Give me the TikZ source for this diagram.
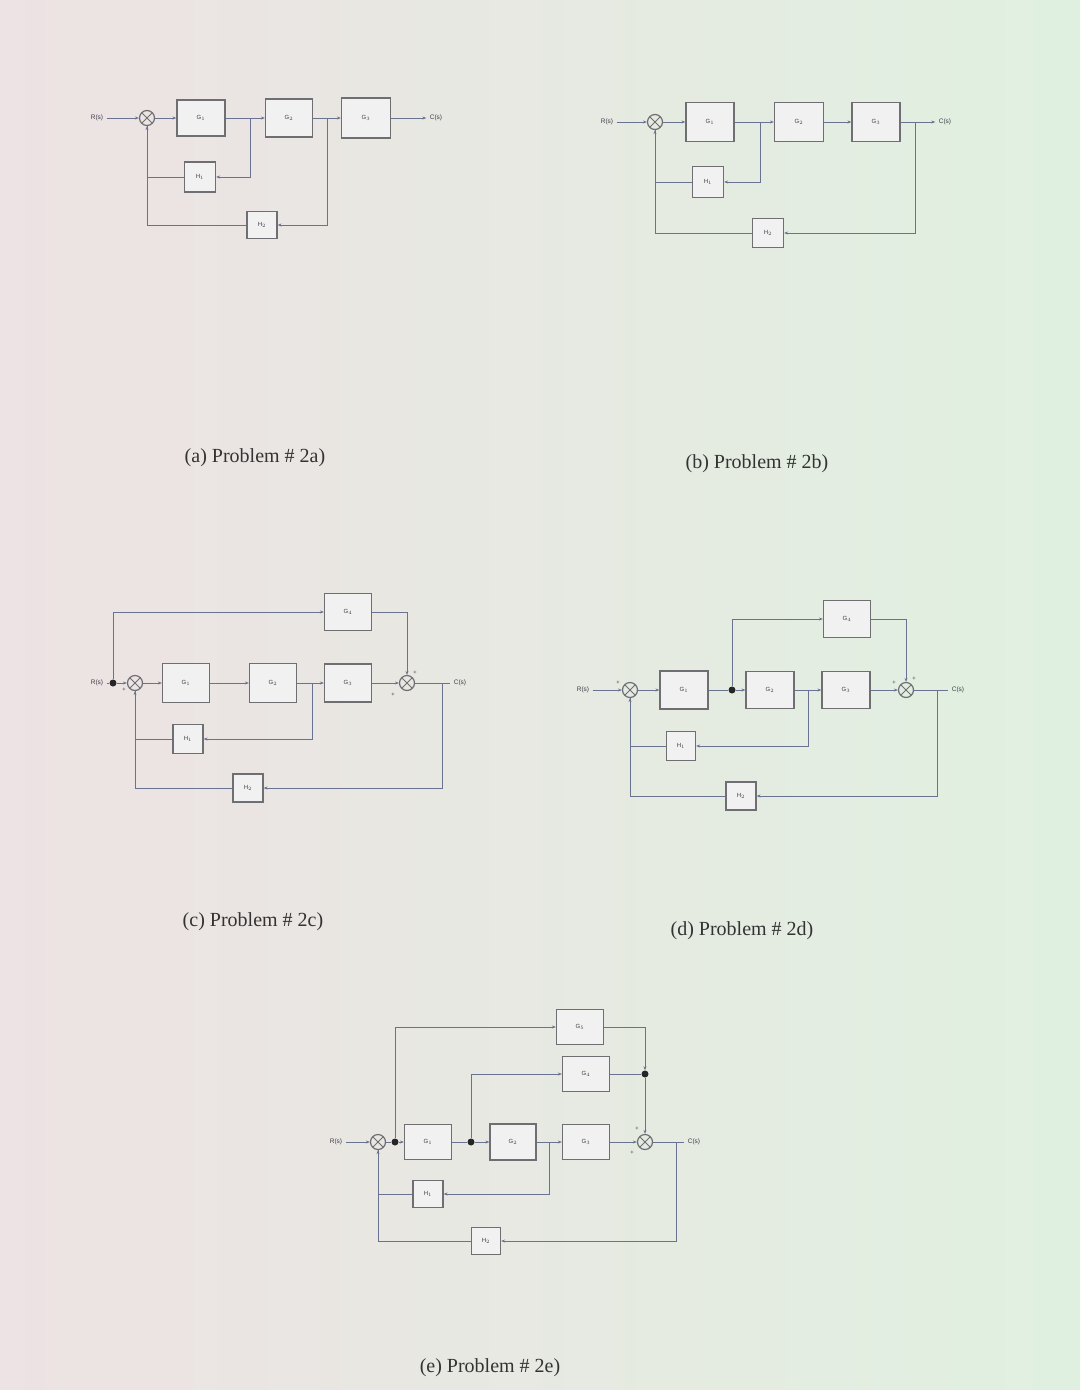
\documentclass[tikz,border=0pt]{standalone}
\usepackage{fontspec}
\setmainfont{Liberation Serif}
\newfontfamily\lblfont{Liberation Sans}
\usetikzlibrary{arrows.meta,shadings}
\definecolor{bg}{RGB}{234,232,234}
\definecolor{ln}{RGB}{105,115,145}
\definecolor{bx}{RGB}{110,110,115}
\definecolor{tx}{RGB}{60,60,70}
\begin{document}
\begin{tikzpicture}[x=1pt,y=-1pt,
  blk/.style={draw=bx,line width=1.2pt,fill=bg!60!white,font=\lblfont\fontsize{6}{6}\selectfont,text=tx},
  sm/.style={draw=bx,line width=1.2pt,circle,minimum size=15pt,inner sep=0pt,
    path picture={\draw[bx,line width=1pt] (path picture bounding box.north west)--(path picture bounding box.south east) (path picture bounding box.north east)--(path picture bounding box.south west);}},
  w/.style={draw=ln,line width=0.9pt},
  a/.style={w,-{Stealth[length=4pt,width=3pt]}},
  dt/.style={circle,fill=black!85,inner sep=0pt,minimum size=7pt},
  sig/.style={font=\lblfont\fontsize{6.5}{7}\selectfont,text=tx},
  captxt/.style={font=\fontsize{20}{22}\selectfont,text=black!80}]
\shade[left color=bg!85!pink,right color=bg!90!green!70!white] (0,0) rectangle (1080,1390);
\useasboundingbox (0,0) rectangle (1080,1390);
%% (a)
\node[sig] (aR) at (97,118) {R(s)};
\node[sm] (aS) at (147,118) {};
\node[blk,minimum width=48pt,minimum height=36pt] (aG1) at (201,118) {G$_1$};
\node[blk,minimum width=47pt,minimum height=38pt] (aG2) at (289,118) {G$_2$};
\node[blk,minimum width=49pt,minimum height=40pt] (aG3) at (366,118) {G$_3$};
\node[sig] (aC) at (436,118) {C(s)};
\node[blk,minimum width=31pt,minimum height=30pt] (aH1) at (200,177) {H$_1$};
\node[blk,minimum width=30pt,minimum height=27pt] (aH2) at (262,225) {H$_2$};
\coordinate (ab1) at (250,118); \coordinate (ab2) at (327,118);
\draw[a] (aR) -- (aS); \draw[a] (aS) -- (aG1); \draw[a] (aG1) -- (aG2); \draw[a] (aG2) -- (aG3);
\draw[a] (aG3) -- (aC);
\draw[a] (ab1) |- (aH1); \draw[a] (aH1) -| (aS);
\draw[a] (ab2) |- (aH2); \draw[w] (aH2) -| (aS);
%% (b)
\node[sig] (bR) at (607,122) {R(s)};
\node[sm] (bS) at (655,122) {};
\node[blk,minimum width=48pt,minimum height=39pt] (bG1) at (710,122) {G$_1$};
\node[blk,minimum width=49pt,minimum height=39pt] (bG2) at (799,122) {G$_2$};
\node[blk,minimum width=48pt,minimum height=39pt] (bG3) at (876,122) {G$_3$};
\node[sig] (bC) at (945,122) {C(s)};
\node[blk,minimum width=31pt,minimum height=31pt] (bH1) at (708,182) {H$_1$};
\node[blk,minimum width=31pt,minimum height=29pt] (bH2) at (768,233) {H$_2$};
\coordinate (bb1) at (760,122); \coordinate (bb2) at (915,122);
\draw[a] (bR) -- (bS); \draw[a] (bS) -- (bG1); \draw[a] (bG1) -- (bG2); \draw[a] (bG2) -- (bG3);
\draw[a] (bG3) -- (bC);
\draw[a] (bb1) |- (bH1); \draw[a] (bH1) -| (bS);
\draw[a] (bb2) |- (bH2); \draw[w] (bH2) -| (bS);
\node[captxt] (capa) at (255,458) {(a) Problem \# 2a)};
\node[captxt] (capb) at (757,464) {(b) Problem \# 2b)};
%% (c)
\node[sig] (cR) at (97,683) {R(s)};
\node[dt] (cd) at (113,683) {};
\node[sm] (cS1) at (135,683) {};
\node[blk,minimum width=47pt,minimum height=39pt] (cG1) at (186,683) {G$_1$};
\node[blk,minimum width=47pt,minimum height=39pt] (cG2) at (273,683) {G$_2$};
\node[blk,minimum width=47pt,minimum height=38pt] (cG3) at (348,683) {G$_3$};
\node[blk,minimum width=47pt,minimum height=37pt] (cG4) at (348,612) {G$_4$};
\node[sm] (cS2) at (407,683) {};
\node[sig] (cC) at (460,683) {C(s)};
\node[blk,minimum width=30pt,minimum height=29pt] (cH1) at (188,739) {H$_1$};
\node[blk,minimum width=30pt,minimum height=28pt] (cH2) at (248,788) {H$_2$};
\coordinate (cb1) at (312,683); \coordinate (cb2) at (442,683);
\draw[w] (cR) -- (cd); \draw[a] (cd) -- (cS1); \draw[a] (cS1) -- (cG1); \draw[a] (cG1) -- (cG2);
\draw[a] (cG2) -- (cG3); \draw[a] (cG3) -- (cS2); \draw[w] (cS2) -- (cC);
\draw[a] (cd) |- (cG4); \draw[a] (cG4) -| (cS2);
\draw[a] (cb1) |- (cH1); \draw[a] (cH1) -| (cS1);
\draw[a] (cb2) |- (cH2); \draw[w] (cH2) -| (cS1);
\node[font=\fontsize{6}{6}\selectfont] (cp1) at (124,690) {+};
\node[font=\fontsize{6}{6}\selectfont] (cp2) at (393,695) {+};
\node[font=\fontsize{6}{6}\selectfont] (cp3) at (415,673) {+};
\node[captxt] (capc) at (253,922) {(c) Problem \# 2c)};
%% (d)
\node[sig] (dR) at (583,690) {R(s)};
\node[sm] (dS1) at (630,690) {};
\node[blk,minimum width=48pt,minimum height=38pt] (dG1) at (684,690) {G$_1$};
\node[dt] (dd) at (732,690) {};
\node[blk,minimum width=48pt,minimum height=37pt] (dG2) at (770,690) {G$_2$};
\node[blk,minimum width=48pt,minimum height=37pt] (dG3) at (846,690) {G$_3$};
\node[blk,minimum width=47pt,minimum height=37pt] (dG4) at (847,619) {G$_4$};
\node[sm] (dS2) at (906,690) {};
\node[sig] (dC) at (958,690) {C(s)};
\node[blk,minimum width=29pt,minimum height=29pt] (dH1) at (681,746) {H$_1$};
\node[blk,minimum width=30pt,minimum height=28pt] (dH2) at (741,796) {H$_2$};
\coordinate (db1) at (808,690); \coordinate (db2) at (937,690);
\draw[a] (dR) -- (dS1); \draw[a] (dS1) -- (dG1); \draw[w] (dG1) -- (dd); \draw[a] (dd) -- (dG2);
\draw[a] (dG2) -- (dG3); \draw[a] (dG3) -- (dS2); \draw[w] (dS2) -- (dC);
\draw[a] (dd) |- (dG4); \draw[a] (dG4) -| (dS2);
\draw[a] (db1) |- (dH1); \draw[a] (dH1) -| (dS1);
\draw[a] (db2) |- (dH2); \draw[w] (dH2) -| (dS1);
\node[font=\fontsize{6}{6}\selectfont] (dp1) at (618,683) {+};
\node[font=\fontsize{6}{6}\selectfont] (dp2) at (894,683) {+};
\node[font=\fontsize{6}{6}\selectfont] (dp3) at (914,679) {+};
\node[captxt] (capd) at (742,931) {(d) Problem \# 2d)};
%% (e)
\node[sig] (eR) at (336,1142) {R(s)};
\node[sm] (eS1) at (378,1142) {};
\node[dt] (ed1) at (395,1142) {};
\node[blk,minimum width=47pt,minimum height=35pt] (eG1) at (428,1142) {G$_1$};
\node[dt] (ed2) at (471,1142) {};
\node[blk,minimum width=46pt,minimum height=36pt] (eG2) at (513,1142) {G$_2$};
\node[blk,minimum width=47pt,minimum height=35pt] (eG3) at (586,1142) {G$_3$};
\node[blk,minimum width=47pt,minimum height=35pt] (eG5) at (580,1027) {G$_5$};
\node[blk,minimum width=47pt,minimum height=35pt] (eG4) at (586,1074) {G$_4$};
\node[dt] (ed3) at (645,1074) {};
\node[sm] (eS2) at (645,1142) {};
\node[sig] (eC) at (694,1142) {C(s)};
\node[blk,minimum width=30pt,minimum height=27pt] (eH1) at (428,1194) {H$_1$};
\node[blk,minimum width=29pt,minimum height=27pt] (eH2) at (486,1241) {H$_2$};
\coordinate (eb1) at (549,1142); \coordinate (eb2) at (676,1142);
\draw[a] (eR) -- (eS1); \draw[w] (eS1) -- (ed1); \draw[a] (ed1) -- (eG1); \draw[w] (eG1) -- (ed2);
\draw[a] (ed2) -- (eG2); \draw[a] (eG2) -- (eG3); \draw[a] (eG3) -- (eS2); \draw[w] (eS2) -- (eC);
\draw[a] (ed1) |- (eG5); \draw[a] (eG5) -| (ed3);
\draw[a] (ed2) |- (eG4); \draw[w] (eG4) -- (ed3); \draw[a] (ed3) -- (eS2);
\draw[a] (eb1) |- (eH1); \draw[a] (eH1) -| (eS1);
\draw[a] (eb2) |- (eH2); \draw[w] (eH2) -| (eS1);
\node[font=\fontsize{6}{6}\selectfont] (ep1) at (632,1153) {+};
\node[font=\fontsize{6}{6}\selectfont] (ep2) at (637,1129) {+};
\node[captxt] (cape) at (490,1368) {(e) Problem \# 2e)};
\end{tikzpicture}
\end{document}
